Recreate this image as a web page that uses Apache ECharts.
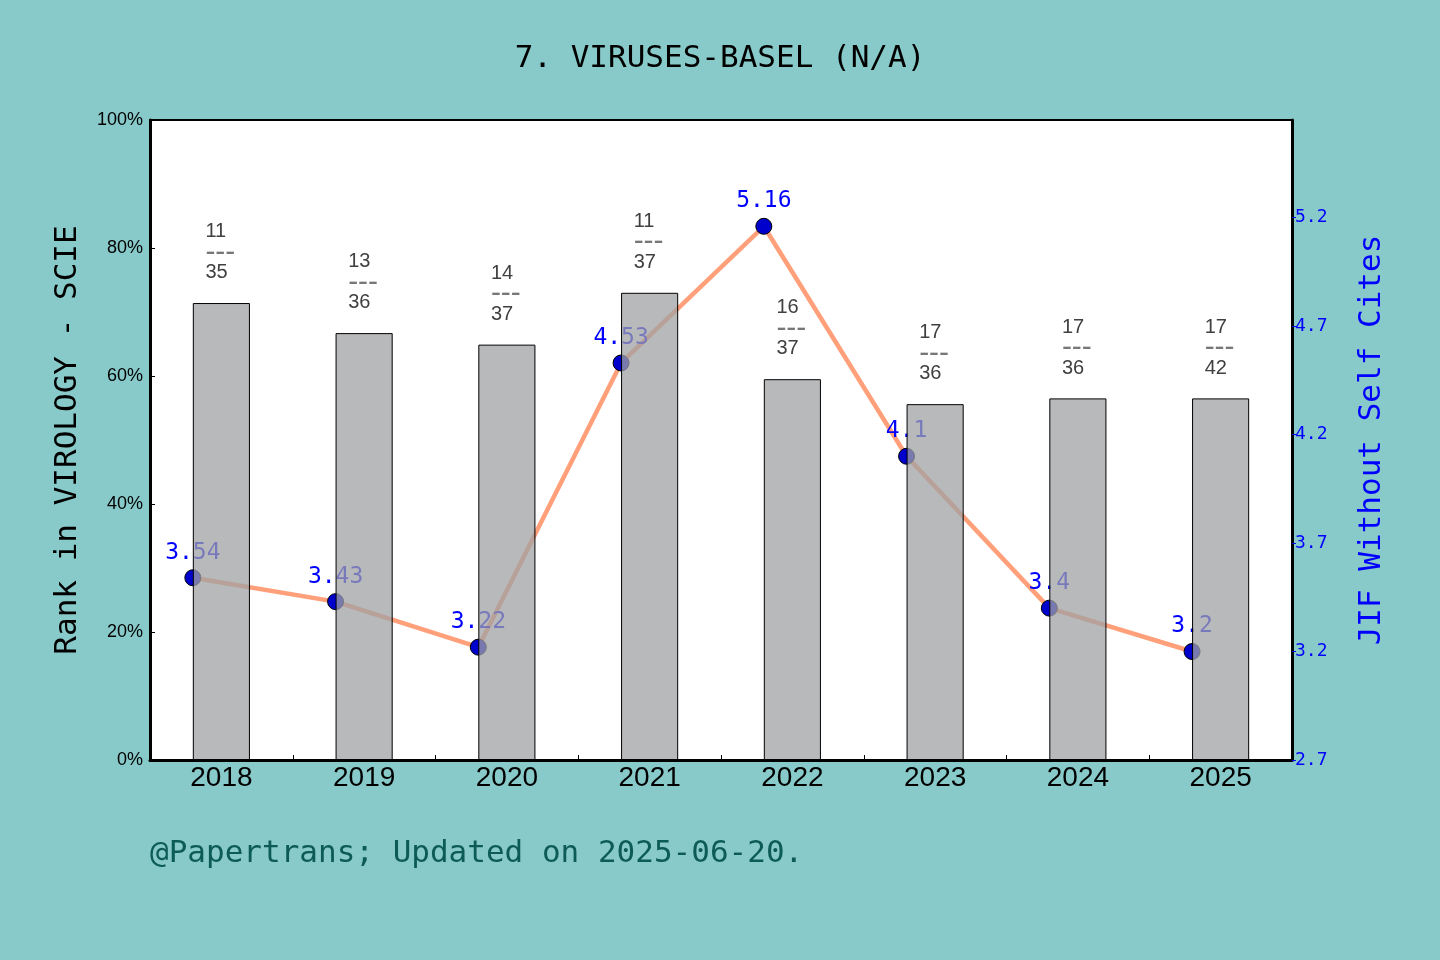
<!DOCTYPE html>
<html>
<head>
<meta charset="utf-8">
<script src="https://cdn.jsdelivr.net/npm/echarts@6/dist/echarts.min.js"></script>
<style>
  html, body { margin: 0; padding: 0; background: #88cac9; }
  #chart { width: 1440px; height: 960px; }
</style>
</head>
<body>
<div id="chart"></div>
<script>
// ---- data ----
const years = ['2018', '2019', '2020', '2021', '2022', '2023', '2024', '2025'];
const rankPercent = [71.4, 66.7, 64.9, 73.0, 59.5, 55.6, 56.5, 56.5];
const rankPos = [11, 13, 14, 11, 16, 17, 17, 17];
const rankTotal = [35, 36, 37, 37, 37, 36, 36, 42];
const jifValues = [3.54, 3.43, 3.22, 4.53, 5.16, 4.1, 3.4, 3.2];
const rightTicks = [2.7, 3.2, 3.7, 4.2, 4.7, 5.2];
const leftTicks = [0, 20, 40, 60, 80, 100];

// ---- style constants ----
const MONO = "'DejaVu Sans Mono', monospace";
const SANS = "'Liberation Sans', Arial, sans-serif";
const BAR_WIDTH_FRAC = 0.4;
const LINE_SHIFT = -BAR_WIDTH_FRAC / 2; // line points sit at bars' left edges

const chart = echarts.init(document.getElementById('chart'));

const option = {
  backgroundColor: '#88cac9',
  animation: false,
  title: {
    text: '7. VIRUSES-BASEL (N/A)',
    left: 'center',
    top: 38,
    textStyle: { fontFamily: MONO, fontSize: 31, fontWeight: 'normal', color: '#000' }
  },
  grid: {
    left: 150, right: 148, top: 120, bottom: 200,
    show: true, backgroundColor: '#fff', borderColor: '#000', borderWidth: 2,
    containLabel: false, outerBoundsMode: 'none'
  },
  xAxis: [
    {
      type: 'category',
      data: years,
      position: 'bottom',
      axisLine: { show: true, onZero: false, lineStyle: { color: '#000', width: 3 } },
      axisTick: { show: true, inside: true, length: 5, lineStyle: { color: '#000', width: 1 } },
      axisLabel: { color: '#000', fontFamily: SANS, fontSize: 28, margin: 4 },
      splitLine: { show: false }
    },
    {
      type: 'value',
      min: -0.5,
      max: years.length - 0.5,
      show: false,
      axisLine: { onZero: false }
    }
  ],
  yAxis: [
    {
      type: 'value',
      min: leftTicks[0],
      max: leftTicks[leftTicks.length - 1],
      interval: 20,
      position: 'left',
      name: 'Rank in VIROLOGY - SCIE',
      nameLocation: 'middle',
      nameGap: 67,
      nameRotate: 90,
      nameTextStyle: { fontFamily: MONO, fontSize: 31, color: '#000' },
      axisLine: { show: true, onZero: false, lineStyle: { color: '#000', width: 3 } },
      axisTick: { show: true, inside: true, length: 5, lineStyle: { color: '#000', width: 1 } },
      axisLabel: { formatter: '{value}%', color: '#000', fontFamily: SANS, fontSize: 18, margin: 7 },
      splitLine: { show: false }
    },
    {
      type: 'value',
      min: 2.7,
      max: 5.65,
      position: 'right',
      name: 'JIF Without Self Cites',
      nameLocation: 'middle',
      nameGap: 64,
      nameRotate: 90,
      nameTextStyle: { fontFamily: MONO, fontSize: 31, color: '#0000ff' },
      axisLine: { show: true, onZero: false, lineStyle: { color: '#000', width: 3 } },
      axisTick: { show: true, inside: false, length: 4, customValues: rightTicks, lineStyle: { color: '#0000ff', width: 1 } },
      axisLabel: { customValues: rightTicks, color: '#0000ff', fontFamily: MONO, fontSize: 18, margin: 3,
                   formatter: v => String(Math.round(v * 10) / 10) },
      splitLine: { show: false }
    }
  ],
  series: [
    {
      type: 'bar',
      xAxisIndex: 0,
      yAxisIndex: 0,
      z: 3,
      barWidth: (BAR_WIDTH_FRAC * 100) + '%',
      data: rankPercent,
      itemStyle: { color: 'rgba(160,161,164,0.75)', borderColor: '#000', borderWidth: 1 },
      label: {
        show: true,
        position: 'top',
        distance: 20,
        formatter: p => '{n|' + rankPos[p.dataIndex] + '}\n{d|---}\n{n|' + rankTotal[p.dataIndex] + '}',
        rich: {
          n: { fontFamily: SANS, fontSize: 20, color: '#404040', width: 32, align: 'left', lineHeight: 20.5 },
          d: { fontFamily: SANS, fontSize: 30, color: '#777777', width: 32, align: 'left', lineHeight: 20.5 }
        }
      }
    },
    {
      type: 'line',
      xAxisIndex: 1,
      yAxisIndex: 1,
      z: 2,
      data: jifValues.map((v, i) => [i + LINE_SHIFT, v]),
      lineStyle: { color: '#ffa07a', width: 4.5 },
      symbol: 'circle',
      symbolSize: 16,
      itemStyle: { color: '#0000cd', borderColor: '#000', borderWidth: 1 },
      label: {
        show: true,
        position: 'top',
        distance: 5,
        color: '#0000ff',
        fontFamily: MONO,
        fontSize: 23,
        formatter: p => String(p.value[1])
      }
    }
  ],
  graphic: [
    {
      type: 'text',
      left: 150,
      top: 838,
      style: {
        text: '@Papertrans; Updated on 2025-06-20.',
        fontFamily: MONO,
        fontSize: 31,
        fill: '#0d5b56'
      }
    }
  ]
};

chart.setOption(option);
</script>
</body>
</html>
